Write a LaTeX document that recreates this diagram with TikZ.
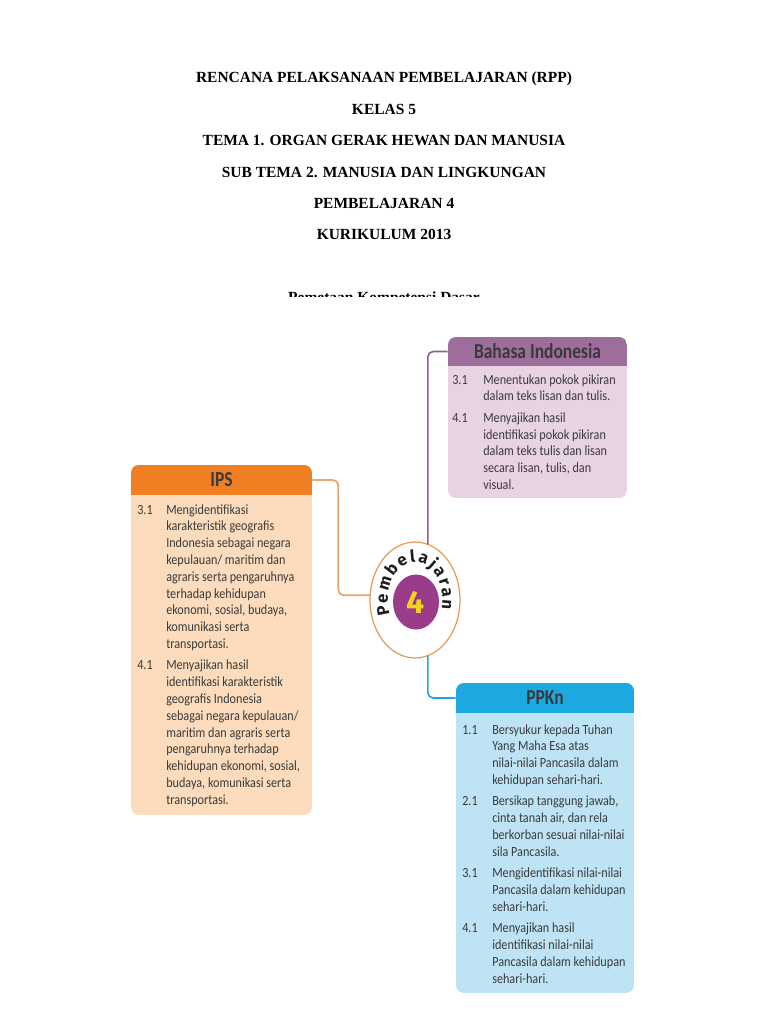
\documentclass[tikz,border=0pt]{standalone}
\usepackage{fontspec}
\setmainfont{Liberation Serif}
\newfontfamily\boxfont[FakeStretch=0.87]{Carlito}
\newfontfamily\headfont[FakeStretch=0.82]{Carlito}
\newfontfamily\pembfont{Fira Sans}
\usetikzlibrary{shapes.geometric,decorations.text,calc}
\newcommand\pembstyle{\pembfont\bfseries\fontsize{12.5}{14}\selectfont}
\definecolor{txtgray}{HTML}{3A3A3A}
\definecolor{bihd}{HTML}{9D6E9C}
\definecolor{bibd}{HTML}{E7D3E4}
\definecolor{ipshd}{HTML}{EF7F22}
\definecolor{ipsbd}{HTML}{FCDCBC}
\definecolor{ppkhd}{HTML}{1CA8E1}
\definecolor{ppkbd}{HTML}{BEE3F5}
\definecolor{purpl}{HTML}{8D5F8E}
\definecolor{orgl}{HTML}{ECA46A}
\definecolor{blul}{HTML}{22A6E0}
\definecolor{hubl}{HTML}{E29A56}
\definecolor{hubin}{HTML}{9A3B8C}
\definecolor{four}{HTML}{F2D41C}
\definecolor{pembtxt}{HTML}{1E1E1E}
\begin{document}
\begin{tikzpicture}[x=0.75pt,y=-0.75pt,
  titletxt/.style={anchor=base,inner sep=0pt,font=\bfseries\fontsize{11.6}{13}\selectfont},
  headtxt/.style={inner sep=0pt,text=txtgray,font=\headfont\bfseries\fontsize{16}{18}\selectfont},
  numtxt/.style={anchor=base west,inner sep=0pt,text=txtgray,font=\boxfont\fontsize{10.5}{12}\selectfont},
  bodytxt/.style={anchor=base west,inner sep=0pt,text=txtgray,font=\boxfont\fontsize{10.5}{12}\selectfont},
  purplink/.style={draw=purpl,line width=1.2pt,rounded corners=4pt},
  orangelink/.style={draw=orgl,line width=1.3pt,rounded corners=4pt},
  bluelink/.style={draw=blul,line width=1.2pt,rounded corners=4pt}]
\useasboundingbox (0,0) rectangle (768,1024);
\fill[white] (0,0) rectangle (768,1024);
% titles
\foreach \t/\yy [count=\i] in {RENCANA PELAKSANAAN PEMBELAJARAN (RPP)/83,KELAS 5/114,TEMA 1. ORGAN GERAK HEWAN DAN MANUSIA/145,SUB TEMA 2. MANUSIA DAN LINGKUNGAN/177,PEMBELAJARAN 4/208,KURIKULUM 2013/239}
  \node[titletxt] (t\i) at (384,\yy) {\t};
\begin{scope}
\clip (0,0) rectangle (768,296);
\node[titletxt] (t7) at (384,302) {Pemetaan Kompetensi Dasar};
\end{scope}
% Bahasa Indonesia box
\begin{scope}
\clip[rounded corners=6pt] (448,337) rectangle (627,498);
\fill[bibd] (448,337) rectangle (627,498);
\fill[bihd] (448,337) rectangle (627,366);
\end{scope}
\node[headtxt,minimum width=134.25pt,minimum height=21.75pt] (bihead) at (537.5,351.5) {Bahasa Indonesia};
\node[numtxt] (bi-n1) at (452,384) {3.1};
\foreach \t [count=\i from 0] in {Menentukan pokok pikiran,dalam teks lisan dan tulis.}
  \node[bodytxt] (bi-a\i) at (483,{384+16.8*\i}) {\t};
\node[numtxt] (bi-n2) at (452,422.3) {4.1};
\foreach \t [count=\i from 0] in {Menyajikan hasil,identifikasi pokok pikiran,dalam teks tulis dan lisan,{secara lisan, tulis, dan},visual.}
  \node[bodytxt] (bi-b\i) at (483,{422.3+16.8*\i}) {\t};
% IPS box
\begin{scope}
\clip[rounded corners=6pt] (131,465) rectangle (312,815);
\fill[ipsbd] (131,465) rectangle (312,815);
\fill[ipshd] (131,465) rectangle (312,495);
\end{scope}
\node[headtxt,minimum width=135.75pt,minimum height=22.5pt] (ipshead) at (221.5,480) {IPS};
\node[numtxt] (ips-n1) at (137,514) {3.1};
\foreach \t [count=\i from 0] in {Mengidentifikasi,karakteristik geografis,Indonesia sebagai negara,kepulauan/ maritim dan,agraris serta pengaruhnya,terhadap kehidupan,{ekonomi, sosial, budaya,},komunikasi serta,transportasi.}
  \node[bodytxt] (ips-a\i) at (166,{514+16.8*\i}) {\t};
\node[numtxt] (ips-n2) at (137,669.9) {4.1};
\foreach \t [count=\i from 0] in {Menyajikan hasil,identifikasi karakteristik,geografis Indonesia,sebagai negara kepulauan/,maritim dan agraris serta,pengaruhnya terhadap,{kehidupan ekonomi, sosial,},{budaya, komunikasi serta},transportasi.}
  \node[bodytxt] (ips-b\i) at (166,{669.9+16.8*\i}) {\t};
% PPKn box
\begin{scope}
\clip[rounded corners=6pt] (456,683) rectangle (634,993);
\fill[ppkbd] (456,683) rectangle (634,993);
\fill[ppkhd] (456,683) rectangle (634,713);
\end{scope}
\node[headtxt,minimum width=133.5pt,minimum height=22.5pt] (ppkhead) at (545,698) {PPKn};
\node[numtxt] (pp-n1) at (462,734) {1.1};
\foreach \t [count=\i from 0] in {Bersyukur kepada Tuhan,Yang Maha Esa atas,nilai-nilai Pancasila dalam,kehidupan sehari-hari.}
  \node[bodytxt] (pp-a\i) at (492,{734+16.8*\i}) {\t};
\node[numtxt] (pp-n2) at (462,805.9) {2.1};
\foreach \t [count=\i from 0] in {{Bersikap tanggung jawab,},{cinta tanah air, dan rela},berkorban sesuai nilai-nilai,sila Pancasila.}
  \node[bodytxt] (pp-b\i) at (492,{805.9+16.8*\i}) {\t};
\node[numtxt] (pp-n3) at (462,877.8) {3.1};
\foreach \t [count=\i from 0] in {Mengidentifikasi nilai-nilai,Pancasila dalam kehidupan,sehari-hari.}
  \node[bodytxt] (pp-c\i) at (492,{877.8+16.8*\i}) {\t};
\node[numtxt] (pp-n4) at (462,932.9) {4.1};
\foreach \t [count=\i from 0] in {Menyajikan hasil,identifikasi nilai-nilai,Pancasila dalam kehidupan,sehari-hari.}
  \node[bodytxt] (pp-d\i) at (492,{932.9+16.8*\i}) {\t};
% hub
\node[ellipse,draw=hubl,line width=0.9pt,fill=white,minimum width=67.5pt,minimum height=87pt,inner sep=0pt,outer sep=0pt] (hub) at (415,600) {};
\node[ellipse,fill=hubin,minimum width=34.5pt,minimum height=41.25pt,inner sep=0pt,text=four,font=\pembfont\bfseries\fontsize{24}{26}\selectfont] (fournode) at (416,602) {4};
\path[decorate,decoration={text along path,text color=pembtxt,text={|\pembstyle|Pembelajaran},text align=fit to path}]
  ($(hub.center)+(203:20.5pt and 28.5pt)$) arc[start angle=203,end angle=-14,x radius=20.5pt,y radius=28.5pt];
% connectors
\draw[purplink] (bihead.west) -| (hub.77);
\draw[orangelink] (ipshead.east) -- ++(26,0) |- (hub.174);
\draw[bluelink] (hub.283) |- (ppkhead.west);
\end{tikzpicture}
\end{document}
